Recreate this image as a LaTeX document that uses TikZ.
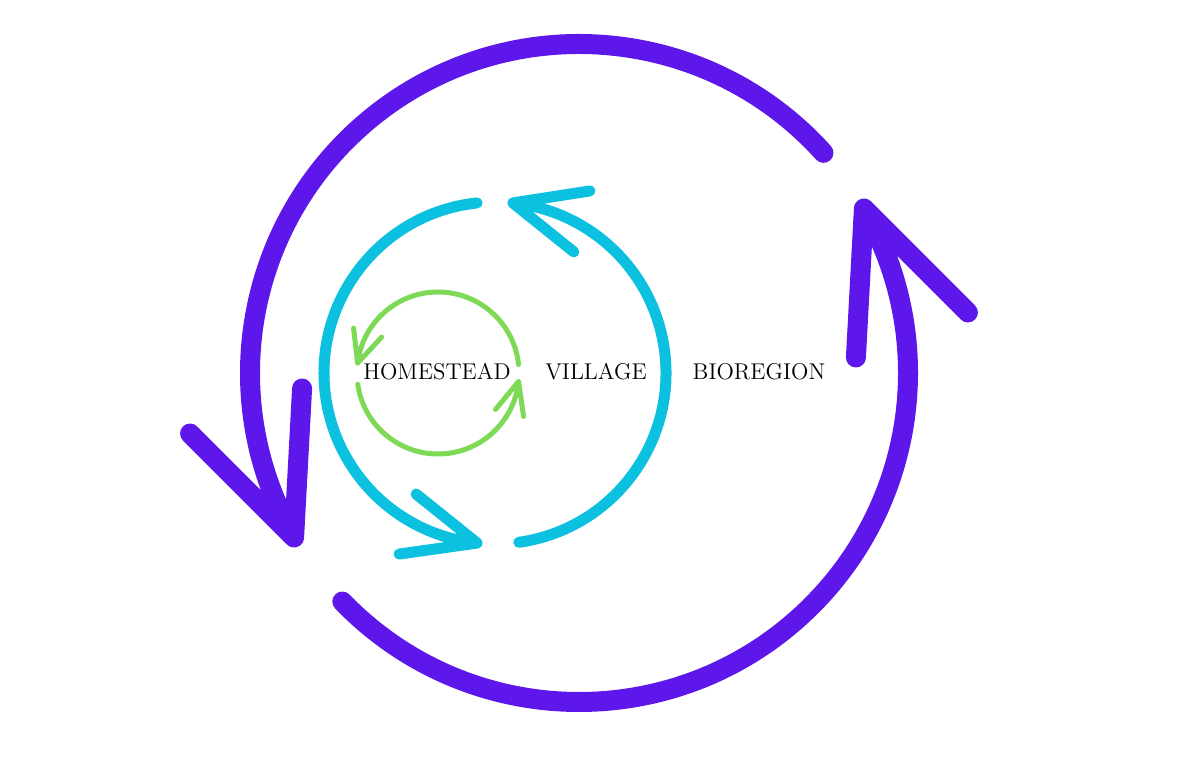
\documentclass[tikz,border=0pt]{standalone}
\begin{document}
\begin{tikzpicture}[x=0.5pt, y=0.5pt, font=\fontsize{11.4}{14}\selectfont,
  bigloop/.style={line width=10pt, regionviolet, line cap=round, line join=round},
  midloop/.style={line width=5.5pt, villagecyan, line cap=round, line join=round},
  smallloop/.style={line width=2.5pt, homegreen, line cap=round, line join=round}]
% Colors
\definecolor{regionviolet}{RGB}{94,23,235}
\definecolor{villagecyan}{RGB}{12,192,223}
\definecolor{homegreen}{RGB}{126,217,87}

% Frame
\useasboundingbox (0,0) rectangle (1179,765);

% Centres of the three cycles
\coordinate (bio) at (579,392);
\coordinate (vil) at (495,392);
\coordinate (home) at (438,392);

% Bioregion cycle (outer)
\draw[bigloop] (bio) ++(42:329) arc[start angle=42, end angle=210, radius=329]
  coordinate (bioTipA) -- ++(-104,104) (bioTipA) -- ++(8,149);
\draw[bigloop] (bio) ++(224:329) arc[start angle=224, end angle=390, radius=329]
  coordinate (bioTipB) -- ++(104,-104) (bioTipB) -- ++(-8,-149);

% Village cycle (middle)
\draw[midloop] (vil) ++(96:171) arc[start angle=96, end angle=264, radius=171]
  coordinate (vilTipA) -- ++(-61,49) (vilTipA) -- ++(-78,-11);
\draw[midloop] (vil) ++(278:171) arc[start angle=278, end angle=444, radius=171]
  coordinate (vilTipB) -- ++(77,12) (vilTipB) -- ++(61,-49);

% Homestead cycle (inner)
\draw[smallloop] (home) ++(6:81) arc[start angle=6, end angle=173, radius=81]
  coordinate (homeTipA) -- ++(-4,35) (homeTipA) -- ++(24,26);
\draw[smallloop] (home) ++(188:81) arc[start angle=188, end angle=354, radius=81]
  coordinate (homeTipB) -- ++(-23,-28) (homeTipB) -- ++(5,-35);

% Labels
\node (homestead) at (437,393) {HOMESTEAD};
\node (village) at (596,393) {VILLAGE};
\node (bioregion) at (759,393) {BIOREGION};

\end{tikzpicture}
\end{document}
